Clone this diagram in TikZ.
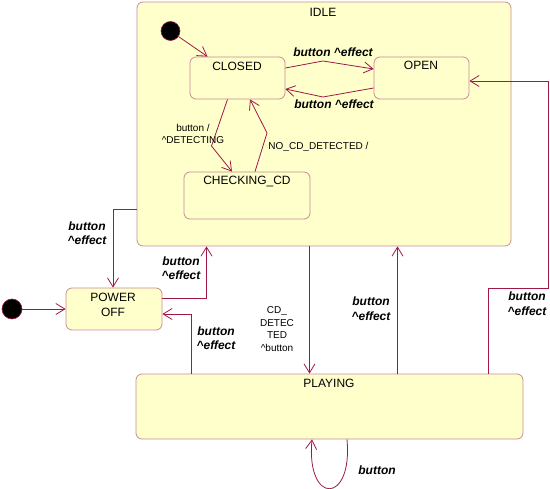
\documentclass[tikz,border=0pt]{standalone}
\usepackage{fontspec}
\setmainfont{Liberation Sans}
\usetikzlibrary{arrows.meta}
\definecolor{linecol}{HTML}{A01848}
\definecolor{boxcol}{HTML}{C98A98}
\definecolor{fillcol}{HTML}{FFFFCC}
\begin{document}
\begin{tikzpicture}[x=1pt,y=-1pt,
  statebox/.style={draw=boxcol, fill=fillcol, rounded corners=6pt, line width=0.8pt, inner sep=0pt},
  statename/.style={font=\fontsize{12}{14}\selectfont, inner sep=0pt, align=center},
  evlabel/.style={font=\fontsize{12}{14.5}\selectfont\bfseries\itshape, inner sep=0pt, align=center},
  smlabel/.style={font=\fontsize{10}{12.5}\selectfont, inner sep=0pt, align=center},
  initdot/.style={circle, fill=black, draw=linecol, line width=0.6pt, inner sep=0pt},
  trans/.style={draw=linecol, line width=0.8pt, -{Straight Barb[length=9pt,width=11pt,line width=0.8pt]}}
]
\useasboundingbox (0,0) rectangle (550,489);

% states
\node[statebox, minimum width=374pt, minimum height=244pt] (idle) at (324,124) {};
\node[statename] (idlelbl) at (323,12) {IDLE};

\node[statebox, minimum width=95pt, minimum height=42pt] (closed) at (237.5,78) {};
\node[statename] (closedlbl) at (237,66) {CLOSED};

\node[statebox, minimum width=95pt, minimum height=42pt] (open) at (421.5,78) {};
\node[statename] (openlbl) at (421,65) {OPEN};

\node[statebox, minimum width=126pt, minimum height=47pt] (checking) at (247,195.5) {};
\node[statename] (checkinglbl) at (247,182) {CHECKING\_CD};

\node[statebox, minimum width=96pt, minimum height=42pt] (power) at (114,309) {};
\node[statename, font=\fontsize{12}{15}\selectfont] (powerlbl) at (113,304.5) {POWER\\OFF};

\node[statebox, minimum width=387pt, minimum height=65pt] (playing) at (329.5,406.5) {};
\node[statename] (playinglbl) at (329,383) {PLAYING};

% initial states
\node[initdot, minimum size=19pt] (dot1) at (170.5,31) {};
\node[initdot, minimum size=20pt] (dot2) at (12,309) {};

% transitions
\draw[trans] (dot1) -- ([xshift=-30pt]closed.north);
\draw[trans] ([yshift=10pt]closed.east) -- (323,61) -- ([yshift=9pt]open.west);
\node[evlabel] (l1) at (333,52) {button \^{}effect};
\draw[trans] ([yshift=-10pt]open.west) -- (323,97) -- ([yshift=-11pt]closed.east);
\node[evlabel] (l2) at (334,104) {button \^{}effect};

\draw[trans] ([xshift=-10pt]closed.south) -- (211.5,146) -- ([xshift=-15pt]checking.north);
\node[smlabel] (l3) at (193,134) {button /\\\^{}DETECTING};
\draw[trans] ([xshift=8pt]checking.north) -- (267,133) -- ([xshift=12.5pt]closed.south);
\node[smlabel] (l4) at (318.5,147) {NO\_CD\_DETECTED /};

\draw[trans] ([yshift=-85pt]idle.west) -| ([xshift=-1pt]power.north);
\node[evlabel] (l5) at (87,233) {button\\\^{}effect};

\draw[trans] ([yshift=11pt]power.east) -| ([xshift=-117.5pt]idle.south);
\node[evlabel] (l6) at (181,268) {button\\\^{}effect};

\draw[trans] (dot2) -- (power.west);

\draw[trans] ([xshift=-138pt]playing.north) |- ([yshift=-5pt]power.east);
\node[evlabel] (l7) at (216,338) {button\\\^{}effect};

\draw[trans] ([xshift=-14.5pt]idle.south) -- ([xshift=-20pt]playing.north);
\node[smlabel, font=\fontsize{10}{12.7}\selectfont] (l8) at (277,329) {CD\_\\DETEC\\TED\\\^{}button};

\draw[trans] ([xshift=68pt]playing.north) -- ([xshift=73.5pt]idle.south);
\node[evlabel] (l9) at (371,308.5) {button\\\^{}effect};

\coordinate (c1) at (548,288);
\draw[trans] ([xshift=158.5pt]playing.north) |- (c1) |- ([yshift=-3pt]open.east);
\node[evlabel] (l10) at (527,303.5) {button\\\^{}effect};

\draw[trans] ([xshift=17.5pt]playing.south) .. controls (353,505) and (306,505) .. ([xshift=-17.5pt]playing.south);
\node[evlabel] (l11) at (377,470) {button};
\end{tikzpicture}
\end{document}
